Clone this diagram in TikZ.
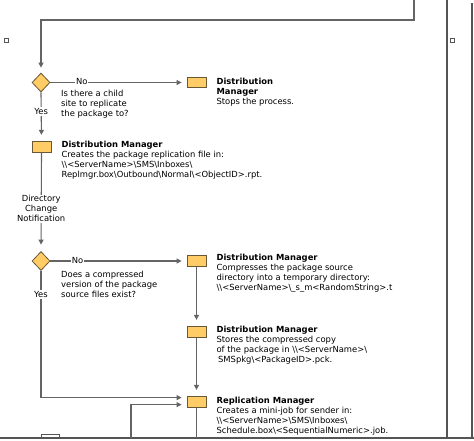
\documentclass[tikz,border=0pt]{standalone}
\usepackage{fontspec}
\newfontfamily\vfont{DejaVu Sans}
\usetikzlibrary{shapes.geometric,arrows.meta}

\definecolor{boxfill}{RGB}{255,204,102}
\definecolor{boxline}{RGB}{105,88,55}
\definecolor{flow}{RGB}{100,100,100}
\definecolor{frame}{RGB}{85,85,85}
\newcommand{\bsl}{\textbackslash}

\tikzset{
  stepbox/.style={draw=boxline, fill=boxfill, line width=0.8pt, minimum width=19pt, minimum height=10.5pt, inner sep=0pt},
  decision/.style={diamond, draw=boxline, fill=boxfill, line width=0.8pt, minimum width=18pt, minimum height=19pt, inner sep=0pt},
  txt/.style={font=\vfont\fontsize{8.4}{10}\selectfont, align=left, inner sep=0pt, anchor=north west},
  lbl/.style={font=\vfont\fontsize{8.4}{10}\selectfont, align=center, fill=white, inner sep=1pt},
  flowline/.style={draw=flow, line width=1.1pt},
  flowarrow/.style={flowline, -{Triangle[length=5pt,width=5pt]}},
}

\begin{document}
\begin{tikzpicture}[x=1pt,y=-1pt]
\useasboundingbox (0,0) rectangle (474,440);

% Marco de la pagina
\draw[frame, line width=0.6pt, fill=white] (41,434.5) rectangle (59,438);
\draw[frame, line width=2pt] (447,0) -- (447,438);
\draw[frame, line width=2pt] (472,3) -- (472,438);
\draw[frame, line width=2pt] (0,438) -- (474,438);
\draw[frame, line width=0.6pt, fill=white] (4,38) rectangle (8,42);
\draw[frame, line width=0.6pt, fill=white] (450,38) rectangle (454,42);

% Decisiones y pasos
\node[decision] (q1) at (41,82.5) {};
\node[stepbox] (stop) at (196.5,82.5) {};
\node[stepbox] (create) at (41.5,147) {};
\node[decision] (q2) at (41,261) {};
\node[stepbox] (compress) at (196.5,261) {};
\node[stepbox] (store) at (196.5,332) {};
\node[stepbox] (minijob) at (196.5,402) {};

% Textos
\node[txt] (q1txt) at (61,89.5) {Is there a child\\site to replicate\\the package to?};
\node[txt] (q2txt) at (61,270.5) {Does a compressed\\version of the package\\source files exist?};
\node[txt] (stoptxt) at ([shift={(10,-5)}]stop.east) {\textbf{Distribution}\\\textbf{Manager}\\Stops the process.};
\node[txt] (createtxt) at ([shift={(10,-6.5)}]create.east) {\textbf{Distribution Manager}\\Creates the package replication file in:\\\bsl\bsl<ServerName>\bsl SMS\bsl Inboxes\bsl\\Replmgr.box\bsl Outbound\bsl Normal\bsl<ObjectID>.rpt.};
\node[txt] (compresstxt) at ([shift={(10,-7.5)}]compress.east) {\textbf{Distribution Manager}\\Compresses the package source\\directory into a temporary directory:\\\bsl\bsl<ServerName>\bsl\_s\_m<RandomString>.t};
\node[txt] (storetxt) at ([shift={(10,-6.5)}]store.east) {\textbf{Distribution Manager}\\Stores the compressed copy\\of the package in \bsl\bsl<ServerName>\bsl\\\hspace{1.5pt}SMSpkg\bsl<PackageID>.pck.};
\node[txt] (minijobtxt) at ([shift={(10,-5.5)}]minijob.east) {\textbf{Replication Manager}\\Creates a mini-job for sender in:\\\bsl\bsl<ServerName>\bsl SMS\bsl Inboxes\bsl\\Schedule.box\bsl<SequentialNumeric>.job.};

% Conectores
\coordinate (entry) at (414,0);
\coordinate (sender) at (131,438);
\coordinate (exit) at (196.5,438);
\draw[flowarrow, shorten >=5pt] (entry) -- ++(0,20) -| (q1.north);
\draw[flowarrow, shorten >=5pt] (q1.east) -- (stop.west) node[lbl, pos=0.23, yshift=1.5pt] {No};
\draw[flowarrow, shorten >=6.5pt] (q1.south) -- (create.north) node[lbl, pos=0.39] {Yes};
\draw[flowarrow, shorten >=6.5pt] (create.south) -- (q2.north) node[lbl, pos=0.57] {Directory\\Change\\Notification};
\draw[flowarrow, shorten >=5pt] (q2.east) -- (compress.west) node[lbl, pos=0.2, yshift=1pt] {No};
\draw[flowarrow, shorten >=5pt] (q2.south) |- ([yshift=4.4pt]minijob.west) node[lbl, pos=0.093] {Yes};
\draw[flowarrow, shorten >=6.5pt] (compress.south) -- (store.north);
\draw[flowarrow, shorten >=6.5pt] (store.south) -- (minijob.north);
\draw[flowarrow, shorten >=5pt] (sender) |- ([yshift=-2.6pt]minijob.west);
\draw[flowline] (minijob.south) -- (exit);
\end{tikzpicture}
\end{document}
